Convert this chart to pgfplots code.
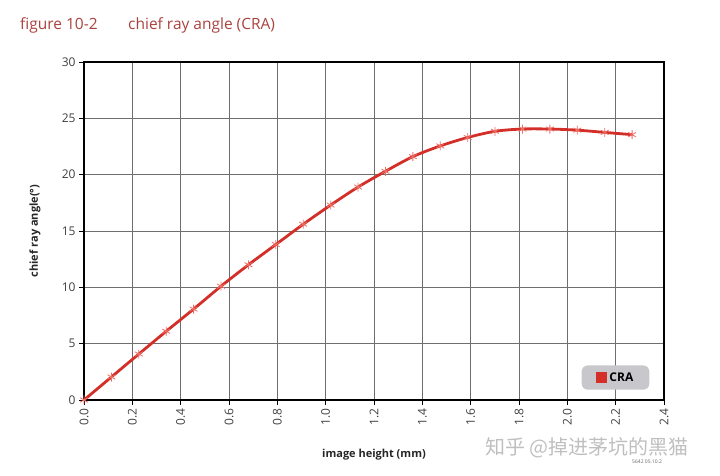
\documentclass[border=0pt]{standalone}
\usepackage{fontspec}
\setmainfont{Open Sans}
\newfontfamily\cjk{Noto Sans CJK SC}
\usepackage{pgfplots}
\pgfplotsset{compat=1.18}
\definecolor{titlered}{RGB}{170,66,62}
\definecolor{crared}{RGB}{212,46,40}
\definecolor{markred}{RGB}{236,110,100}
\definecolor{gridgray}{RGB}{110,110,110}
\definecolor{legendgray}{RGB}{200,200,204}

\begin{document}
\begin{tikzpicture}[x=1bp,y=1bp]
\path[use as bounding box] (0,0) rectangle (720,476);
% title
\node[anchor=base west, text=titlered, font=\fontsize{15.5bp}{18bp}\selectfont, inner sep=0] at (20,446) {figure 10-2};
\node[anchor=base west, text=titlered, font=\fontsize{15.5bp}{18bp}\selectfont, inner sep=0] at (128,446) {chief ray angle (CRA)};
\begin{axis}[
    at={(84bp,76bp)}, anchor=south west,
    scale only axis, width=580bp, height=338bp,
    xmin=0, xmax=2.4, ymin=0, ymax=30,
    xtick={0,0.2,...,2.41}, ytick={0,5,...,30},
    grid=major,
    major grid style={gridgray, line width=0.9bp},
    axis line style={black, line width=1.4bp},
    tick align=outside, major tick length=5bp,
    tick style={black, line width=0.9bp},
    xtick pos=bottom, ytick pos=left,
    x tick label style={rotate=90, anchor=east, /pgf/number format/.cd, fixed, fixed zerofill, precision=1},
    tick label style={font=\fontsize{12bp}{14bp}\selectfont, text=black!75},
    /pgf/number format/assume math mode=true,
    xlabel={\textbf{image height (mm)}},
    ylabel={\textbf{chief ray angle(°)}},
    label style={font=\fontsize{11bp}{13bp}\selectfont, text=black!85},
    xlabel style={at={(axis description cs:0.5,-0.163)}, anchor=center},
    ylabel style={at={(axis description cs:-0.0845,0.5)}, anchor=center},
    legend style={at={(axis description cs:0.975,0.03)}, anchor=south east,
        fill=legendgray, draw=none, rounded corners=6bp,
        font=\fontsize{12bp}{14bp}\selectfont\bfseries,
        inner xsep=14bp, inner ysep=5bp},
    legend image code/.code={\fill[crared, sharp corners] (2bp,-4.5bp) rectangle (11bp,4.5bp);},
]
\addplot[crared, line width=2.8bp, smooth, mark=asterisk,
    mark size=4.5bp, mark options={markred, line width=0.8bp}] coordinates {
    (0.0000,0.00) (0.1134,2.04) (0.2268,4.08) (0.3402,6.10) (0.4536,8.07)
    (0.5670,10.10) (0.6804,12.00) (0.7938,13.80) (0.9072,15.60) (1.0206,17.30)
    (1.1340,18.90) (1.2474,20.30) (1.3608,21.60) (1.4742,22.55) (1.5876,23.30)
    (1.7010,23.85) (1.8144,24.05) (1.9278,24.05) (2.0412,23.95) (2.1546,23.75)
    (2.2680,23.55)
};
\addlegendentry{CRA}
\end{axis}
% watermark
\node[anchor=base west, text=black!25, font=\cjk\fontsize{20bp}{22bp}\selectfont, inner sep=0] at (485,21) {知乎 @掉进茅坑的黑猫};
\node[anchor=base west, text=black!60, font=\fontsize{5bp}{6bp}\selectfont, inner sep=0] at (632,12) {5642 05.10.2};
\end{tikzpicture}
\end{document}
